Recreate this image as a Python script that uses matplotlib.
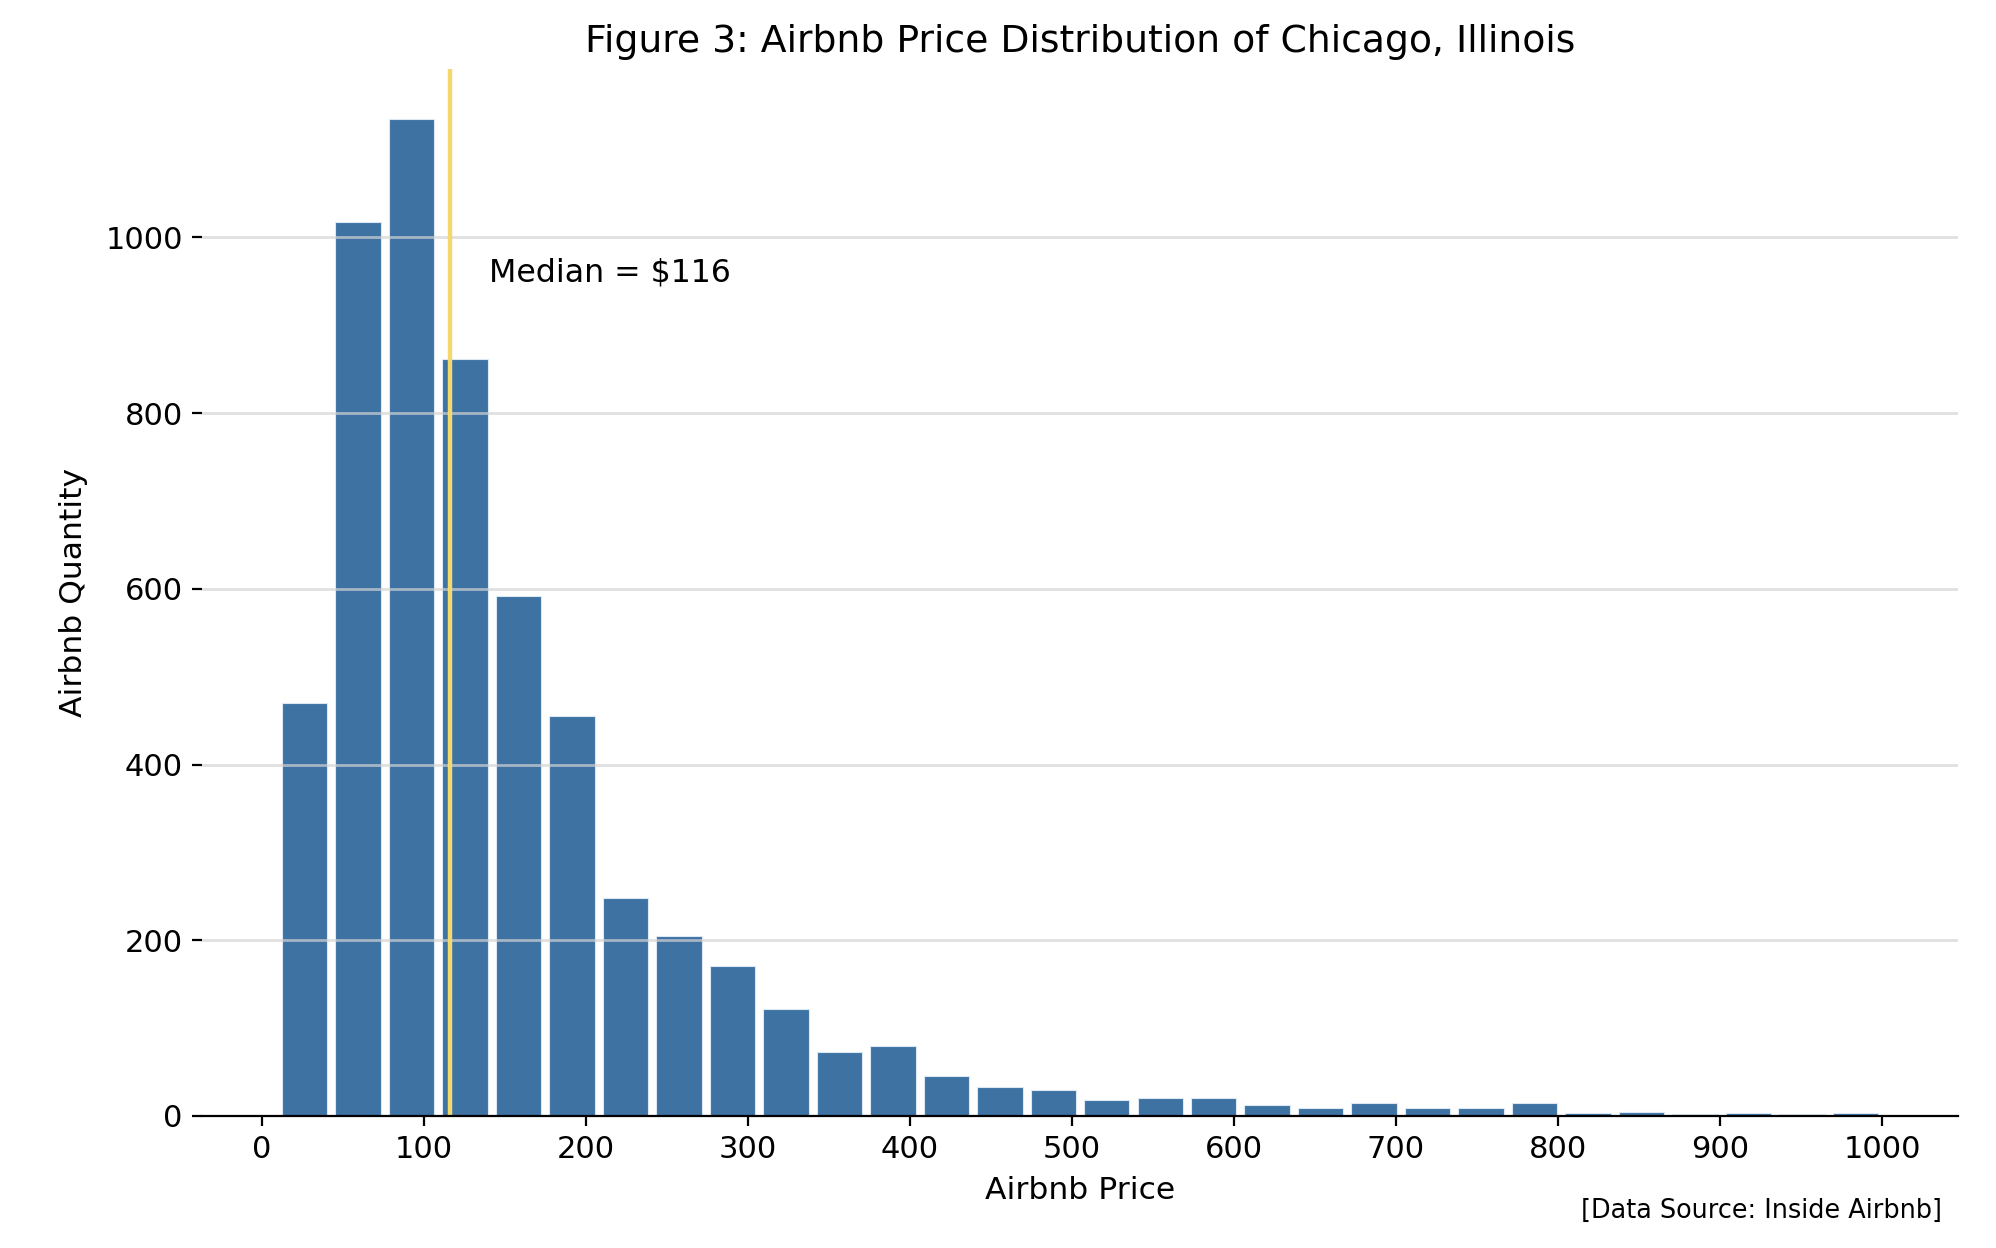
import numpy as np
import matplotlib
matplotlib.use("Agg")
import matplotlib.pyplot as plt

# Histogram data (30 bins from $10 to $1000)
bin_start = 10
bin_end = 1000
n_bins = 30
counts = [470, 1017, 1135, 862, 592, 455, 248, 205, 171, 122,
          73, 80, 45, 33, 30, 18, 21, 21, 13, 9,
          15, 9, 9, 15, 3, 4, 2, 3, 2, 3]
median_price = 116
x_ticks = list(range(0, 1001, 100))
y_ticks = [0, 200, 400, 600, 800, 1000]

edges = np.linspace(bin_start, bin_end, n_bins + 1)
centers = (edges[:-1] + edges[1:]) / 2

fig = plt.figure(figsize=(9.98, 6.24), dpi=200)
ax = fig.add_axes([0.1013, 0.1058, 0.8796, 0.839])

ax.hist(centers, bins=edges, weights=counts, rwidth=0.85,
        color="#3e72a3", edgecolor="#dce8f3", linewidth=0.4)

ax.axvline(median_price, color="#f3d870", linewidth=1.6)
ax.text(140, 950, f"Median = ${median_price}", fontsize=11.4)

ax.grid(axis="y", color="lightgray", alpha=0.7, linewidth=1)
ax.grid(axis="x", visible=False)
for s in ["top", "right", "left"]:
    ax.spines[s].set_visible(False)
ax.spines["bottom"].set_linewidth(0.8)

ax.set_xticks(x_ticks)
ax.set_yticks(y_ticks)
ax.tick_params(labelsize=11)

ax.set_xlabel("Airbnb Price", fontsize=11.3)
ax.set_ylabel("Airbnb Quantity", fontsize=11.3, labelpad=6.2)
ax.set_title("Figure 3: Airbnb Price Distribution of Chicago, Illinois", fontsize=13.6)

fig.text(0.973, 0.0297, "[Data Source: Inside Airbnb]", ha="right", va="center", fontsize=9.2)

fig.savefig("out.png", dpi=200)
